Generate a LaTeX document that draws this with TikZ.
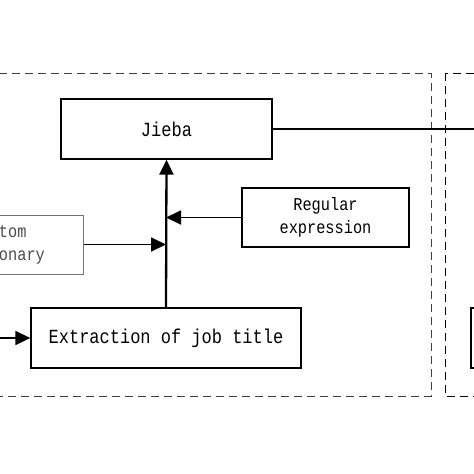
\documentclass[tikz,border=0pt]{standalone}
\usepackage{fontspec}
\newfontfamily\boxfont[FakeStretch=0.85]{Liberation Mono}
\usetikzlibrary{arrows.meta}
\begin{document}
\begin{tikzpicture}[x=1pt,y=-1pt]
\tikzset{
    box/.style 2 args={draw, line width=1.3pt, minimum width=#1, minimum height=#2,
      inner sep=0pt, align=center, font=\boxfont\fontsize{20}{23}\selectfont},
    small/.style={font=\boxfont\fontsize{18}{23}\selectfont},
    group/.style={draw, dashed, dash pattern=on 8pt off 5pt, line width=1pt},
    arr/.style={-{Triangle[length=15pt,width=14pt]}, line width=1.8pt}
}
\useasboundingbox (0,0) rectangle (474,474);
\clip (0,0) rectangle (474,474);
% dashed groups
\draw[group, draw=black!75] (-20,73) rectangle (431,396);
\draw[group] (445,73) rectangle (520,396);
% boxes
\node[box={211pt}{60pt}] (jieba) at (166.5,129) {Jieba};
\node[box={167pt}{59pt}, small] (regex) at (325.5,217.5) {Regular\\expression};
\node[box={168pt}{59pt}, small, draw=black!55, text=black!70, line width=1pt] (dict) at (-1,244.5) {Custom\\dictionary};
\node[box={270pt}{60pt}] (extr) at (166,338) {Extraction of job title};
\node[box={98pt}{60pt}] (next) at (520,338) {};
\coordinate (in) at (-10,338);
\coordinate (out) at (490,129);
% connectors
\draw[arr, line width=2.3pt] (extr.north) -- (jieba.south);
\draw[arr] (regex.west) -- (regex.west -| extr.north);
\draw[arr] (dict.east) -- (dict.east -| extr.north);
\draw[arr] (in) -- (extr.west);
\draw[line width=1.5pt] (jieba.east) -- (out);
\end{tikzpicture}
\end{document}
